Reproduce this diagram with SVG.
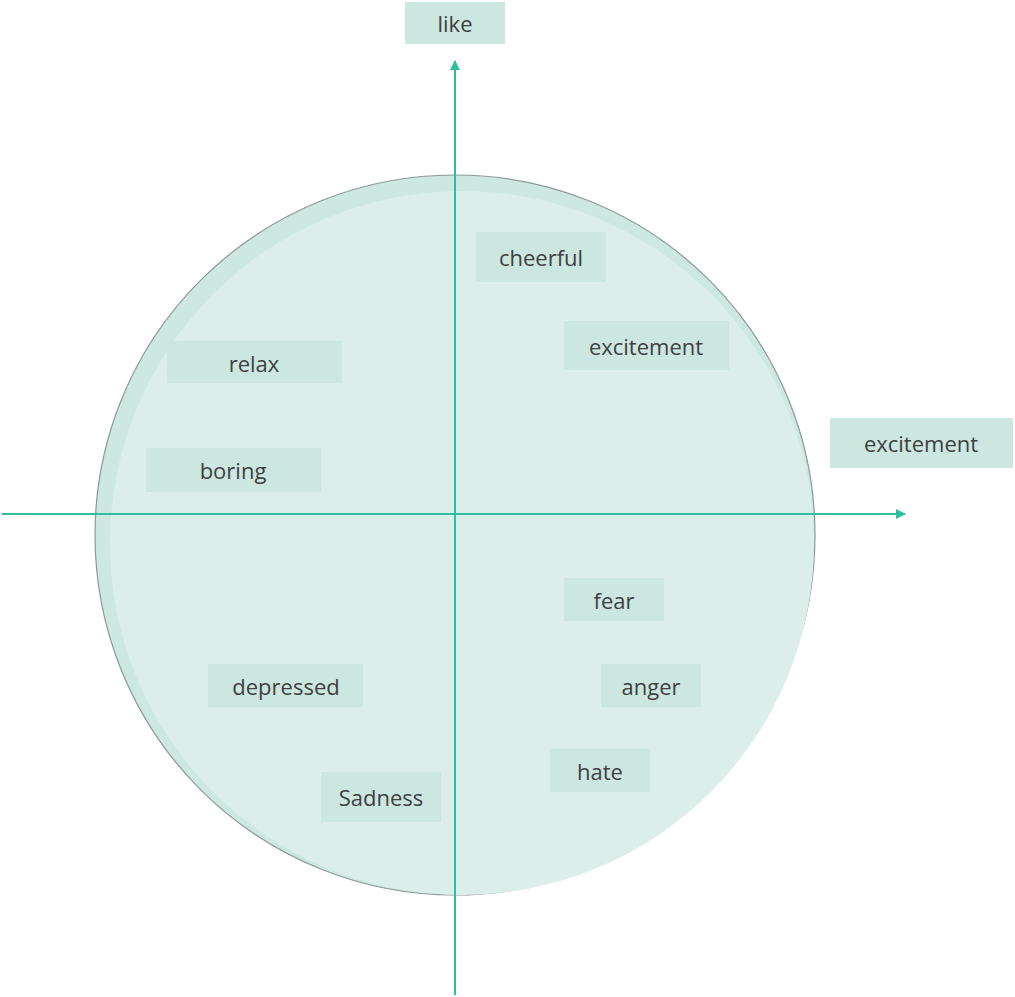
<svg xmlns="http://www.w3.org/2000/svg" width="1015" height="997" viewBox="0 0 1015 997">
<style>
.b{fill:#cce7e0}
.t{font-family:"Open Sans","Liberation Sans",sans-serif;font-size:22px;fill:#404040;text-anchor:middle;dominant-baseline:central}
.ax{stroke:#2ebf9e;stroke-width:2;fill:none}
</style>
<defs><marker id="ar" markerWidth="10" markerHeight="10" refX="9" refY="5" orient="auto" markerUnits="userSpaceOnUse"><path d="M0,0L10,5L0,10z" fill="#2ebf9e"/></marker></defs>
<g id="circle">
<circle cx="455" cy="535" r="360" fill="#cde8e1" stroke="#8a9a96" stroke-width="1.2"/>
<circle cx="462" cy="543" r="352" fill="#dceee9"/>
</g>
<g id="connectors">
<line class="ax" x1="2" y1="514" x2="905" y2="514" marker-end="url(#ar)"/>
<line class="ax" x1="455" y1="995" x2="455" y2="61" marker-end="url(#ar)"/>
</g>
<g id="like"><rect class="b" x="405" y="2" width="100" height="42"/><text class="t" x="455" y="23">like</text></g>
<g id="cheerful"><rect class="b" x="476" y="232" width="130" height="50"/><text class="t" x="541" y="257">cheerful</text></g>
<g id="excitement1"><rect class="b" x="564" y="321" width="165" height="49"/><text class="t" x="646" y="346">excitement</text></g>
<g id="relax"><rect class="b" x="167" y="341" width="175" height="42"/><text class="t" x="254" y="363">relax</text></g>
<g id="boring"><rect class="b" x="146" y="448" width="175" height="44"/><text class="t" x="233" y="470">boring</text></g>
<g id="excitement2"><rect class="b" x="830" y="418" width="183" height="50"/><text class="t" x="921" y="443">excitement</text></g>
<g id="fear"><rect class="b" x="564" y="578" width="100" height="43"/><text class="t" x="614" y="600">fear</text></g>
<g id="depressed"><rect class="b" x="208" y="664" width="155" height="43"/><text class="t" x="286" y="686">depressed</text></g>
<g id="anger"><rect class="b" x="601" y="664" width="100" height="43"/><text class="t" x="651" y="686">anger</text></g>
<g id="hate"><rect class="b" x="550" y="749" width="100" height="43"/><text class="t" x="600" y="771">hate</text></g>
<g id="sadness"><rect class="b" x="321" y="772" width="120" height="50"/><text class="t" x="381" y="797">Sadness</text></g>
</svg>
